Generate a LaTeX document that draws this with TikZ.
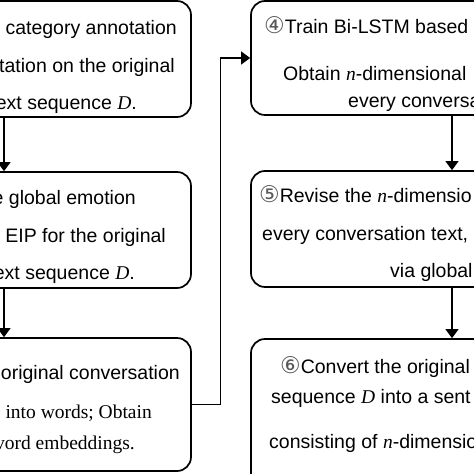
\documentclass[tikz,border=0pt]{standalone}
\usepackage{fontspec}
\setmainfont{Liberation Sans}
\newfontfamily\serif{Liberation Serif}
\newfontfamily\circfont{DejaVu Sans}
\usetikzlibrary{arrows.meta}
\newcommand{\mi}[1]{{\serif\itshape #1}}
\newcommand{\cnum}[1]{{\circfont\fontsize{23}{23}\selectfont\color{black!65}#1}}
\begin{document}
\begin{tikzpicture}[x=1pt, y=-1pt,
    box/.style={draw, rounded corners=14pt, line width=1.7pt, minimum width=341pt, inner sep=0pt},
    txt/.style={inner sep=0pt, font=\fontsize{19.5}{23}\selectfont},
    seriftxt/.style={txt, font=\fontsize{19.5}{23}\serif},
    link/.style={-{Triangle[width=13pt,length=9pt]}, line width=1.2pt}]
        \useasboundingbox (0,0) rectangle (474,474);
        \clip (0,0) rectangle (474,474);

        % Boxes
        \node (b1) [box, minimum height=116pt] at (20.5, 59) {};
        \node (b2) [box, minimum height=116pt] at (20.5, 230) {};
        \node (b3) [box, minimum height=133pt] at (20.5, 404.5) {};
        \node (b4) [box, minimum height=114pt] at (421.5, 58) {};
        \node (b5) [box, minimum height=116pt] at (421.5, 229) {};
        \node (b6) [box, minimum height=151pt] at (421.5, 414.5) {};

        % Texts, left column
        \node (t1a) [txt, anchor=base east] at (177, 34) {category annotation};
        \node (t1b) [txt, anchor=base east] at (175, 72) {tation on the original};
        \node (t1c) [txt, anchor=base east] at (137, 109) {ext sequence \mi{D}.};
        \node (t2a) [txt, anchor=base east] at (136, 204) {e global emotion};
        \node (t2b) [txt, anchor=base east] at (166, 242) {EIP for the original};
        \node (t2c) [txt, anchor=base east] at (135, 279) {ext sequence \mi{D}.};
        \node (t3a) [txt, anchor=base east] at (180, 379) {original conversation};
        \node (t3b) [seriftxt, anchor=base east] at (152, 418) {into words; Obtain};
        \node (t3c) [seriftxt, anchor=base east] at (135, 449) {vord embeddings.};

        % Texts, right column
        \node (t4a) [txt, anchor=base west] at (264, 33) {\cnum{④}Train Bi-LSTM based};
        \node (t4b) [txt, anchor=base west] at (283, 80) {Obtain \mi{n}-dimensional};
        \node (t4c) [txt, anchor=base west] at (348, 107) {every conversa};
        \node (t5a) [txt, anchor=base west] at (259, 202) {\cnum{⑤}Revise the \mi{n}-dimensio};
        \node (t5b) [txt, anchor=base west] at (262, 240) {every conversation text,};
        \node (t5c) [txt, anchor=base west] at (390, 277) {via global};
        \node (t6a) [txt, anchor=base west] at (280, 373) {\cnum{⑥}Convert the original};
        \node (t6b) [txt, anchor=base west] at (271, 403) {sequence \mi{D} into a sent};
        \node (t6c) [txt, anchor=base west] at (269, 448) {consisting of \mi{n}-dimensio};

        % Edges
        \coordinate (lx) at (4, 0);
        \coordinate (rx) at (452, 0);
        \coordinate (cx) at (220.5, 0);
        \draw[link] (b1.south -| lx) -- (b2.north -| lx);
        \draw[link] (b2.south -| lx) -- (b3.north -| lx);
        \draw[link] (b3.east) -| (b4.west -| cx) -- (b4.west);
        \draw[link] (b4.south -| rx) -- (b5.north -| rx);
        \draw[link] (b5.south -| rx) -- (b6.north -| rx);
    \end{tikzpicture}
\end{document}
